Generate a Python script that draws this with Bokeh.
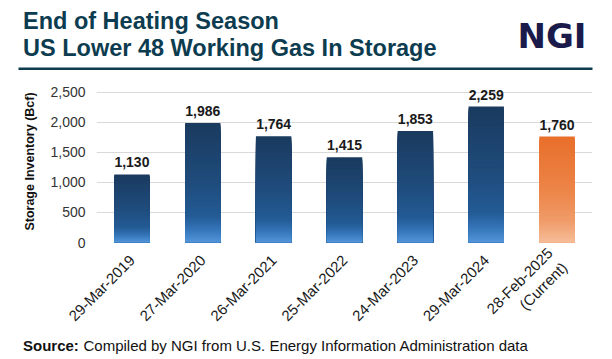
import math
from bokeh.plotting import figure
from bokeh.layouts import column
from bokeh.models import (ColumnDataSource, FactorRange, Range1d, FixedTicker,
                          NumeralTickFormatter)
from bokeh.core.properties import value
from bokeh.embed import file_html
from bokeh.resources import INLINE

# ---- data ----
dates = ["29-Mar-2019", "27-Mar-2020", "26-Mar-2021", "25-Mar-2022",
         "24-Mar-2023", "29-Mar-2024", "28-Feb-2025\n(Current)"]
values = [1130, 1986, 1764, 1415, 1853, 2259, 1760]
is_current = [False, False, False, False, False, False, True]
y_ticks = [0, 500, 1000, 1500, 2000, 2500]

title_1 = "End of Heating Season"
title_2 = "US Lower 48 Working Gas In Storage"
logo = "NGI"
y_label = "Storage Inventory (Bcf)"
source_bold = "Source:"
source_rest = "Compiled by NGI from U.S. Energy Information Administration data"

# ---- style helpers ----
BLUE_STOPS = [(0.0, "#1a3a5f"), (0.5, "#1f4c7c"), (0.78, "#235b95"),
              (0.9, "#3677bb"), (1.0, "#5496da")]
ORANGE_STOPS = [(0.0, "#e86f2b"), (0.5, "#ec8447"), (0.8, "#f09c6a"),
                (1.0, "#f6bd99")]
TEAL = "#0d3c50"
FONT = value("Liberation Sans")
W = 612


def hex2rgb(h):
    h = h.lstrip("#")
    return tuple(int(h[i:i + 2], 16) for i in (0, 2, 4))


def interp(stops, t):
    for (t0, c0), (t1, c1) in zip(stops[:-1], stops[1:]):
        if t0 <= t <= t1:
            f = (t - t0) / (t1 - t0) if t1 > t0 else 0
            a, b = hex2rgb(c0), hex2rgb(c1)
            return "#%02x%02x%02x" % tuple(round(a[i] + (b[i] - a[i]) * f) for i in range(3))
    return stops[-1][1]


def blank(height, y_top, y_bottom):
    f = figure(width=W, height=height, output_backend="svg", toolbar_location=None,
               x_range=Range1d(0, W), y_range=Range1d(start=y_bottom, end=y_top))
    f.min_border_left = f.min_border_right = 0
    f.min_border_top = f.min_border_bottom = 0
    f.frame_align = False
    f.axis.visible = False
    f.grid.grid_line_color = None
    f.outline_line_color = None
    f.background_fill_color = "white"
    f.border_fill_color = "white"
    return f


# ---- header ----
hdr = blank(70, 0, 70)
hdr.text(x=[22.5, 22.5], y=[20.8, 47.8], text=[title_1, title_2], text_font=FONT,
         text_font_size="23.5px", text_font_style="bold", text_color=TEAL,
         text_baseline="alphabetic", text_align="left")
hdr.text(x=[586], y=[35.5], text=[logo], text_font=value("DejaVu Sans"),
         text_font_size="34px", text_font_style="bold", text_color="#1b1b4b",
         text_baseline="alphabetic", text_align="right")
hdr.quad(left=[18], right=[592], top=[67], bottom=[69.5], fill_color=TEAL,
         line_color=None)

# ---- main chart ----
N = 60
sx, sb, st, sc = [], [], [], []
for d, v, cur in zip(dates, values, is_current):
    stops = ORANGE_STOPS if cur else BLUE_STOPS
    for k in range(N - 1, -1, -1):
        sx.append(d)
        sb.append(0)
        st.append(v * (k + 1) / N)
        sc.append(interp(stops, 1 - (k + 0.5) / N))

slices = ColumnDataSource(dict(x=sx, bottom=sb, top=st, color=sc))
labels_src = ColumnDataSource(dict(x=dates, y=values,
                                   txt=[f"{v:,}" for v in values]))

p = figure(width=W, height=277, output_backend="svg", toolbar_location=None,
           x_range=FactorRange(factors=dates, range_padding=0),
           y_range=Range1d(0, 2692))
p.frame_align = False
p.min_border_left = 96
p.min_border_right = 20
p.min_border_top = 10
p.min_border_bottom = 103
p.outline_line_color = None
p.background_fill_color = "white"
p.border_fill_color = "white"

p.vbar(x="x", bottom="bottom", top="top", width=0.5, source=slices,
       fill_color="color", line_color=None)

p.text(x="x", y="y", text="txt", source=labels_src, text_align="center",
       text_baseline="alphabetic", y_offset=-12, text_font_size="14px",
       text_font_style="bold", text_color="#1a1a1a", text_font=FONT)

p.xgrid.grid_line_color = None
p.ygrid.grid_line_color = "#d9d9d9"
p.ygrid.grid_line_width = 1
p.yaxis.ticker = FixedTicker(ticks=y_ticks)
p.yaxis.formatter = NumeralTickFormatter(format="0,0")
p.yaxis.axis_line_color = None
p.yaxis.major_tick_line_color = None
p.yaxis.minor_tick_line_color = None
p.yaxis.major_label_text_font = "Liberation Sans"
p.yaxis.major_label_text_font_size = "14px"
p.yaxis.major_label_text_color = "#333333"
p.yaxis.major_label_standoff = 5
p.yaxis.axis_label = y_label
p.yaxis.axis_label_text_font = "Liberation Sans"
p.yaxis.axis_label_text_font_size = "12.5px"
p.yaxis.axis_label_text_font_style = "bold"
p.yaxis.axis_label_text_color = "#111111"
p.yaxis.axis_label_standoff = 10

p.xaxis.axis_line_color = None
p.xaxis.major_tick_line_color = None
p.xaxis.minor_tick_line_color = None
p.xaxis.major_label_orientation = math.pi / 4
p.xaxis.major_label_text_font = "Liberation Sans"
p.xaxis.major_label_text_font_size = "15px"
p.xaxis.major_label_text_color = "#1a1a1a"
p.xaxis.major_label_standoff = 9

# ---- footer ----
ftr = blank(27, 332, 359)
ftr.margin = (-15, 0, 0, 0)
ftr.text(x=[22.5], y=[344.5], text=[source_bold], text_font=FONT,
         text_font_size="15px", text_font_style="bold", text_color="#111111",
         text_baseline="alphabetic")
ftr.text(x=[83], y=[344.5], text=[source_rest], text_font=FONT,
         text_font_size="15px", text_color="#111111", text_baseline="alphabetic")

layout = column(hdr, p, ftr, spacing=0)
open("out.html", "w").write(file_html(layout, INLINE))
